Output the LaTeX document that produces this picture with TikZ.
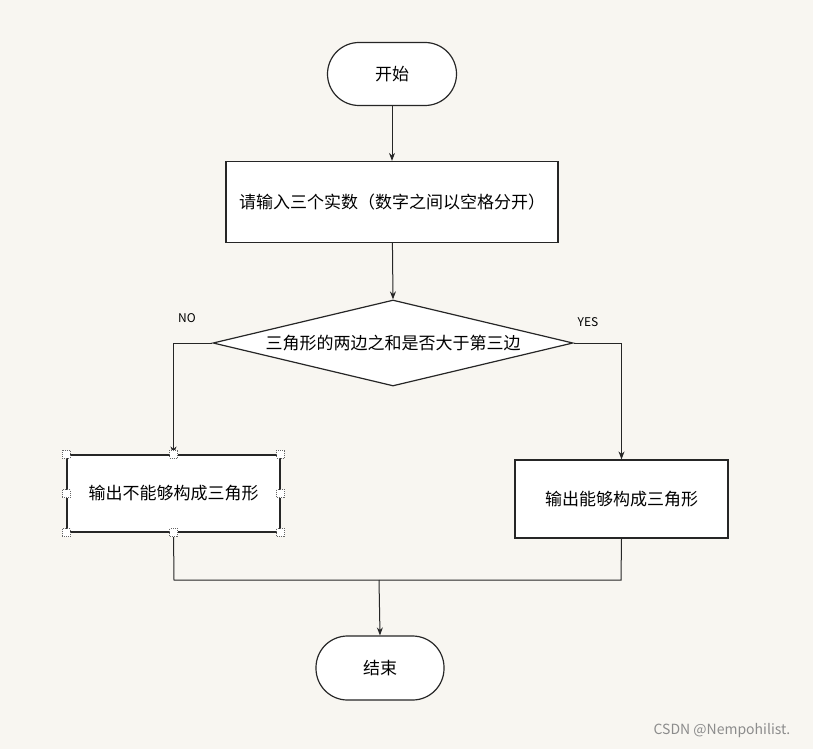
\documentclass[tikz,border=0pt]{standalone}
\usepackage{fontspec}
\setmainfont{Noto Sans CJK SC}
\usetikzlibrary{shapes.geometric,arrows.meta}
\definecolor{bg}{HTML}{F8F6F1}
\tikzset{
  every node/.style={font=\fontsize{17}{19}\selectfont},
  box/.style={draw=black!85,fill=white,line width=1.2pt,inner sep=0pt},
  term/.style={draw=black!85,fill=white,line width=1.2pt,rounded corners=31.5pt,inner sep=0pt},
  dia/.style={draw=black!85,fill=white,line width=1.2pt,diamond,aspect=4.19,inner sep=0pt},
  conn/.style={draw=black!85,line width=1pt},
  arr/.style={conn,-{Stealth[length=8pt,width=6pt]}},
  handle/.style={rectangle,draw=black!60,dash pattern=on 1pt off 1pt,fill=white,minimum size=8pt,inner sep=0pt},
  lbl/.style={font=\fontsize{12}{14}\selectfont}
}
\begin{document}
\begin{tikzpicture}[x=1pt,y=-1pt]
\fill[bg] (0,0) rectangle (813,749);
\useasboundingbox (0,0) rectangle (813,749);
\node[term,minimum width=129pt,minimum height=63pt] (start) at (392,74) {开始};
\node[box,minimum width=332pt,minimum height=81pt] (input) at (392,202) {请输入三个实数（数字之间以空格分开）};
\node[dia,minimum width=360pt,minimum height=86pt] (cond) at (393,343) {三角形的两边之和是否大于第三边};
\node[box,minimum width=213pt,minimum height=77pt] (no) at (173.5,493.5) {输出不能够构成三角形};
\node[box,minimum width=213pt,minimum height=78pt] (yes) at (621.5,499) {输出能够构成三角形};
\node[term,minimum width=128pt,minimum height=64pt] (end) at (380,668) {结束};
\node[lbl] (nol) at (187,318) {NO};
\node[lbl] (yesl) at (588,322) {YES};
\node[font=\fontsize{14}{16}\selectfont,text=black!45] (wm) at (722,731) {CSDN @Nempohilist.};
\coordinate (jl) at (174,580);
\coordinate (jr) at (621,580);
\coordinate (jm) at (379,580);
\draw[arr] (start) -- (input);
\draw[arr] (input) -- (cond.north);
\draw[arr] (cond.west) -| (no.north);
\draw[arr] (cond.east) -| (yes.north);
\draw[conn] (no.south) -- (jl) -- (jr) -- (yes.south);
\draw[arr] (jm) -- (end.north);
\foreach \a in {north west,north,north east,west,east,south west,south,south east}
  \node[handle] at (no.\a) {};
\end{tikzpicture}
\end{document}
